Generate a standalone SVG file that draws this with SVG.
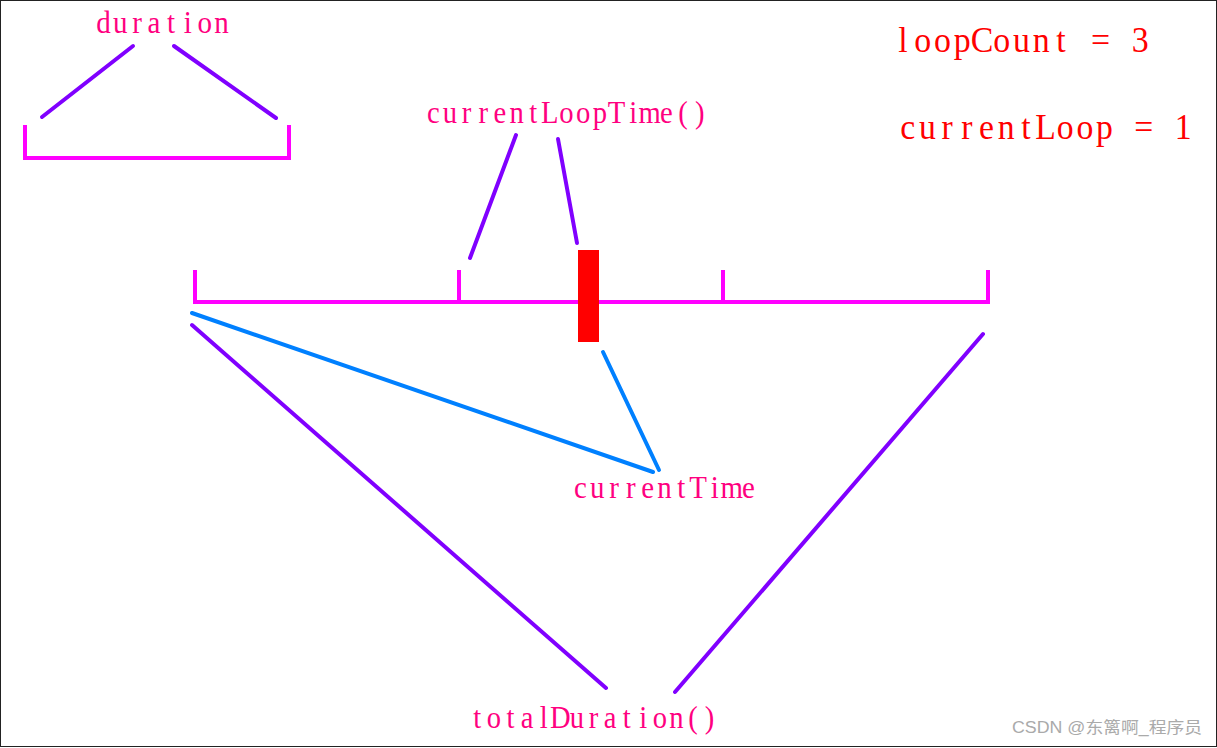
<svg xmlns="http://www.w3.org/2000/svg" width="1217" height="748" viewBox="0 0 1217 748">
<style>
.lbl{font-family:"Liberation Serif","Noto Sans CJK SC",serif;fill:#FF0080;font-size:31px;text-anchor:middle}
.red{font-family:"Liberation Serif","Noto Sans CJK SC",serif;fill:#FF0000;font-size:36px;text-anchor:middle}
.p{stroke:#8000FF;stroke-width:4;stroke-linecap:round;fill:none}
.b{stroke:#0080FF;stroke-width:4;stroke-linecap:round;fill:none}
.m{stroke:#FF00FF;stroke-width:4;fill:none}
.wm{font-family:"Liberation Sans","Noto Sans CJK SC",sans-serif;fill:#aaa;font-size:16px}
</style>
<rect x="0" y="0" width="1217" height="748" fill="#fff"/>
<rect x="0.5" y="0.5" width="1216" height="746" fill="none" stroke="#222" stroke-width="1"/>
<g id="durationBracket">
<polyline class="m" points="25,125 25,158 289,158 289,125"/>
</g>
<g id="timeline">
<polyline class="m" points="195,270 195,302 988,302 988,270"/>
<line class="m" x1="459" y1="270" x2="459" y2="302"/>
<line class="m" x1="723" y1="270" x2="723" y2="302"/>
</g>
<g id="marker">
<rect x="578" y="250" width="21" height="92" fill="#FF0000"/>
</g>
<g id="connectors">
<line class="p" x1="133" y1="46" x2="42" y2="117"/>
<line class="p" x1="174" y1="46" x2="276" y2="118"/>
<line class="p" x1="516" y1="135" x2="470" y2="258"/>
<line class="p" x1="558" y1="139" x2="577" y2="243"/>
<line class="b" x1="192" y1="313" x2="653" y2="472"/>
<line class="b" x1="603" y1="352" x2="659" y2="470"/>
<line class="p" x1="192" y1="325" x2="606" y2="688"/>
<line class="p" x1="983" y1="334" x2="675" y2="692"/>
</g>
<g id="duration"><text class="lbl" transform="translate(95 33) scale(0.9375 1)" x="9 27 45 63 81 99 117 135" y="0">duration</text></g>
<g id="currentLoopTime"><text class="lbl" transform="translate(425 123) scale(0.925 1)" x="9 27 45 63 81 99 117 135 153 171 189 207 225 243 261 279 297" y="0">currentLoopTime()</text></g>
<g id="currentTime"><text class="lbl" transform="translate(572 498) scale(0.934 1)" x="9 27 45 63 81 99 117 135 153 171 189" y="0">currentTime</text></g>
<g id="totalDuration"><text class="lbl" transform="translate(469 728) scale(0.922 1)" x="9 27 45 63 81 99 117 135 153 171 189 207 225 243 261" y="0">totalDuration()</text></g>
<g id="loopCount"><text class="red" transform="translate(893 52) scale(0.9414 1)" x="10.5 31.5 52.5 73.5 94.5 115.5 136.5 157.5 178.5 199.5 220.5 241.5 262.5" y="0">loopCount = 3</text></g>
<g id="currentLoop"><text class="red" transform="translate(898 139) scale(0.9367 1)" x="10.5 31.5 52.5 73.5 94.5 115.5 136.5 157.5 178.5 199.5 220.5 241.5 262.5 283.5 304.5" y="0">currentLoop = 1</text></g>
<text class="wm" x="1012" y="733" textLength="190" lengthAdjust="spacingAndGlyphs">CSDN @东篱啊_程序员</text>
</svg>
